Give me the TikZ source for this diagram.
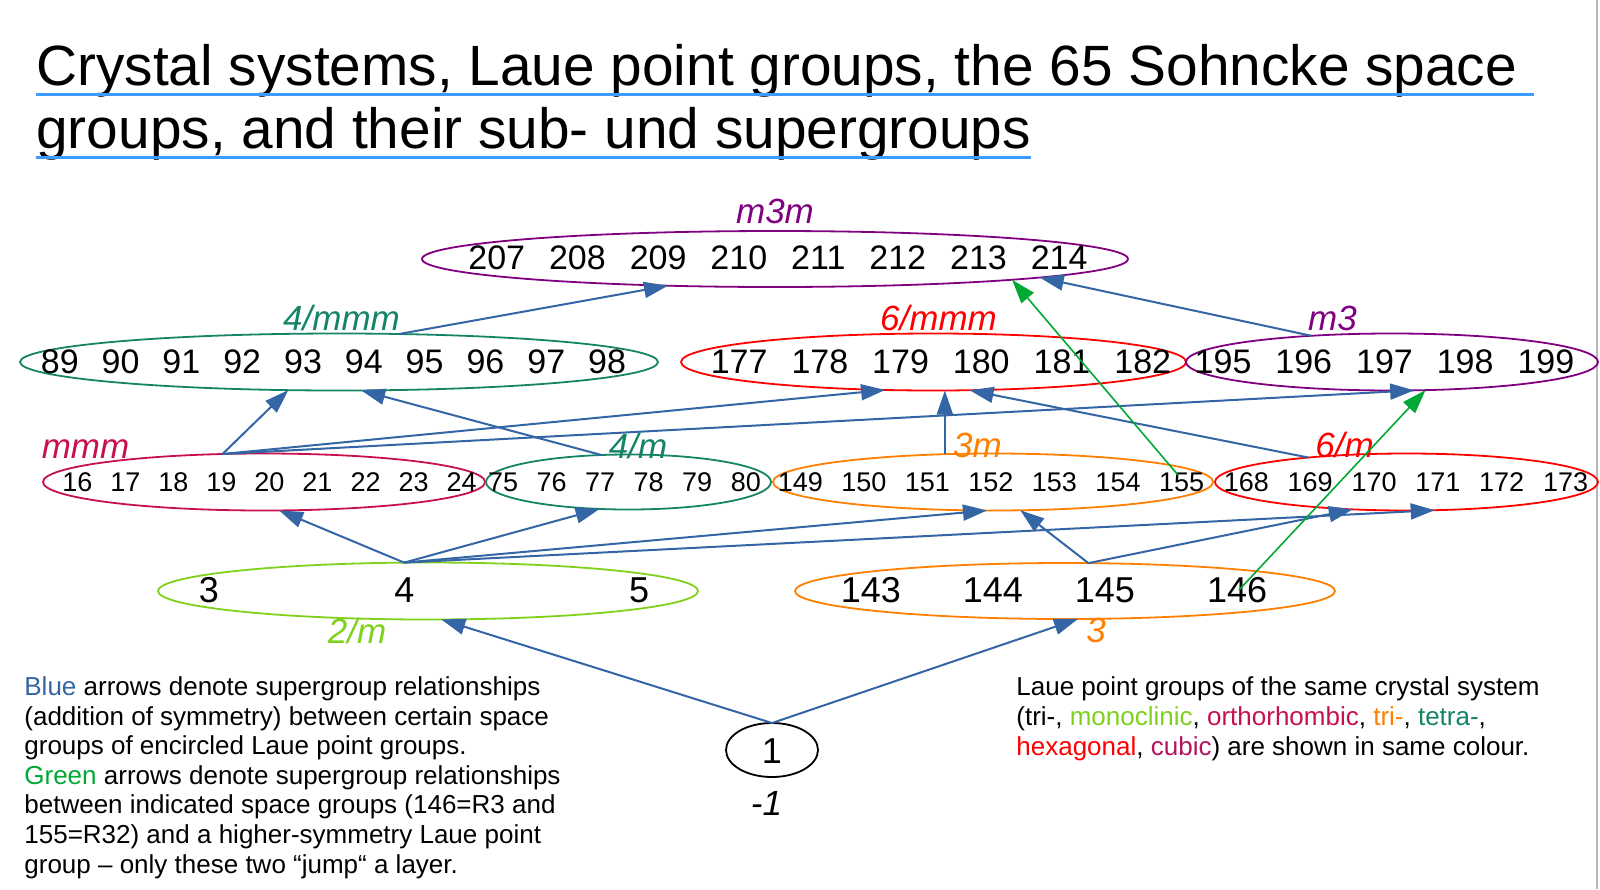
\documentclass[tikz,border=0pt]{standalone}
\usepackage{fontspec}
\setmainfont{Liberation Sans}
\usetikzlibrary{shapes.geometric,arrows.meta}

\definecolor{cubcol}{HTML}{800080}
\definecolor{tetcol}{HTML}{158466}
\definecolor{hexcol}{HTML}{FF0000}
\definecolor{orthcol}{HTML}{C8104E}
\definecolor{trigcol}{HTML}{FF8000}
\definecolor{monocol}{HTML}{7FD11B}
\definecolor{cubtxt}{HTML}{B4145A}
\definecolor{arrblue}{HTML}{3465A4}
\definecolor{arrgreen}{HTML}{00A933}
\definecolor{ulblue}{HTML}{3C9BFF}

% a row of space group numbers with a fixed gap
\newcommand{\numrow}[2]{{\spaceskip=#1\relax #2}}

\tikzset{
	grp/.style={ellipse, draw=#1, line width=0.9pt, inner sep=0pt, outer sep=0pt},
	nums/.style={inner sep=0pt, font=\fontsize{17}{20}\selectfont},
	snums/.style={inner sep=0pt, font=\fontsize{13.5}{16}\selectfont},
	bnums/.style={inner sep=0pt, font=\fontsize{18}{21}\selectfont},
	lbl/.style={text=#1, anchor=base, inner sep=0pt, font=\itshape\fontsize{17.5}{20}\selectfont},
	ttl/.style={anchor=base west, inner sep=0pt, font=\fontsize{28.4}{32}\selectfont},
	uline/.style={ulblue, line width=1.5pt},
	note/.style={anchor=base west, align=left, inner sep=0pt, font=\fontsize{13}{14.8}\selectfont},
	sup/.style={arrblue, line width=1pt, -{Triangle[length=12pt,width=8pt]}},
	jump/.style={arrgreen, line width=0.8pt, -{Triangle[length=12pt,width=8pt]}}
}

\begin{document}
\begin{tikzpicture}[x=0.5pt, y=-0.5pt]
	\useasboundingbox (0,0) rectangle (1600,889);
	\draw[gray!55, line width=1pt] (1597,0) -- (1597,889);
	
	% title
	\node[ttl] (ttlA) at (36,85) {Crystal systems, Laue point groups, the 65 Sohncke space};
	\node[ttl] (ttlB) at (36,148) {groups, and their sub- und supergroups};
	\draw[uline] ([yshift=-4.5pt]ttlA.base west) -- ([xshift=8pt,yshift=-4.5pt]ttlA.base east);
	\draw[uline] ([yshift=-4.5pt]ttlB.base west) -- ([yshift=-4.5pt]ttlB.base east);
	
	% Laue point groups
	\node[grp=cubcol, minimum width=353pt, minimum height=28pt] (cub) at (775,259) {};
	\node[grp=tetcol, minimum width=319pt, minimum height=28.5pt] (tetB) at (339,362) {};
	\node[grp=hexcol, minimum width=252.5pt, minimum height=28.5pt] (hexB) at (933.5,362) {};
	\node[grp=cubcol, minimum width=206pt, minimum height=28.5pt] (cubB) at (1392,362) {};
	\node[grp=orthcol, minimum width=221pt, minimum height=28.5pt] (orth) at (264,482) {};
	\node[grp=tetcol, minimum width=142.5pt, minimum height=27.5pt] (tetC) at (628.5,482) {};
	\node[grp=trigcol, minimum width=220pt, minimum height=28.5pt] (trigC) at (993,482) {};
	\node[grp=hexcol, minimum width=191.5pt, minimum height=28.5pt] (hexC) at (1406.5,482) {};
	\node[grp=monocol, minimum width=270pt, minimum height=28.5pt] (mono) at (428,591) {};
	\node[grp=trigcol, minimum width=270pt, minimum height=28pt] (trig) at (1065,591) {};
	\node[grp=black, minimum width=46pt, minimum height=27pt] (tri) at (772,750) {};
	
	% space group numbers
	\node[nums] (cubN) at (778,258) {\numrow{12pt}{207 208 209 210 211 212 213 214}};
	\node[nums] (tetBN) at (333.5,362) {\numrow{11.5pt}{89 90 91 92 93 94 95 96 97 98}};
	\node[nums] (hexBN) at (941,362) {\numrow{12pt}{177 178 179 180 181 182}};
	\node[nums] (cubBN) at (1384.5,362) {\numrow{12pt}{195 196 197 198 199}};
	\node[snums] (orthN) at (269.5,482) {\numrow{9pt}{16 17 18 19 20 21 22 23 24}};
	\node[snums] (tetCN) at (624.5,482) {\numrow{9.25pt}{75 76 77 78 79 80}};
	\node[snums] (trigCN) at (991,482) {\numrow{9.25pt}{149 150 151 152 153 154 155}};
	\node[snums] (hexCN) at (1406,482) {\numrow{9.4pt}{168 169 170 171 172 173}};
	\node[bnums] (monoN) at (424,590) {3\hspace{87.75pt}4\hspace{107.25pt}5};
	\node[bnums] (trigN) at (1054,590) {143\hspace{31pt}144\hspace{26pt}145\hspace{36pt}146};
	\node[bnums] (triN) at (772,751) {1};
	
	% Laue symbols
	\node[lbl=cubcol] (cubL) at (775,223) {m3m};
	\node[lbl=tetcol] (tetBL) at (341.5,330) {4/mmm};
	\node[lbl=hexcol] (hexBL) at (938.5,330) {6/mmm};
	\node[lbl=cubcol] (cubBL) at (1332.5,330) {m3};
	\node[lbl=orthcol] (orthL) at (85.5,458) {mmm};
	\node[lbl=tetcol] (tetCL) at (638,458) {4/m};
	\node[lbl=trigcol] (trigCL) at (977.5,457) {3m};
	\node[lbl=hexcol] (hexCL) at (1344.5,457) {6/m};
	\node[lbl=monocol] (monoL) at (357,643) {2/m};
	\node[lbl=trigcol] (trigL) at (1096,642) {3};
	\node[lbl=black] (triL) at (766.5,815) {-1};
	
	% supergroup arrows
	\draw[sup] (tetB.25) -- (cub.-166);
	\draw[sup] (cubB.162) -- (cub.-4.8);
	\draw[sup] (orth.146) -- (tetB.-151);
	\draw[sup] (orth.146) -- (hexB.-150);
	\draw[sup] (orth.146) -- (cubB.-52);
	\draw[sup] (tetC.135) -- (tetB.-52);
	\draw[sup] (trigC.150) -- (trigC.150 |- hexB.south);
	\draw[sup] (hexC.166) -- (hexB.-38);
	\draw[sup] (mono.130) -- (orth.-62);
	\draw[sup] (mono.130) -- (tetC.-137);
	\draw[sup] (mono.130) -- (trigC.-102);
	\draw[sup] (mono.130) -- (hexC.-45);
	\draw[sup] (trig.50) -- (trigC.-46);
	\draw[sup] (trig.50) -- (hexC.-153);
	\draw[sup] (tri.north) -- (mono.-65);
	\draw[sup] (tri.north) -- (trig.-65);
	
	% layer jumps
	\coordinate (r155) at (1178,475);
	\coordinate (r146) at (1239,590);
	\draw[jump] (r155) -- (cub.-5.3);
	\draw[jump] (r146) -- (cubB.-40);
	
	% notes (anchored at the last line)
	\node[note] (noteL) at (24,873) {\textcolor{arrblue}{Blue} arrows denote supergroup relationships\\(addition of symmetry) between certain space\\groups of encircled Laue point groups.\\\textcolor{arrgreen}{Green} arrows denote supergroup relationships\\between indicated space groups (146=R3 and\\155=R32) and a higher-symmetry Laue point\\group – only these two “jump“ a layer.};
	\node[note] (noteR) at (1016,755) {Laue point groups of the same crystal system\\(tri-, \textcolor{monocol}{monoclinic}, \textcolor{orthcol}{orthorhombic}, \textcolor{trigcol}{tri-}, \textcolor{tetcol}{tetra-},\\\textcolor{hexcol}{hexagonal}, \textcolor{cubtxt}{cubic}) are shown in same colour.};
	
\end{tikzpicture}
\end{document}
